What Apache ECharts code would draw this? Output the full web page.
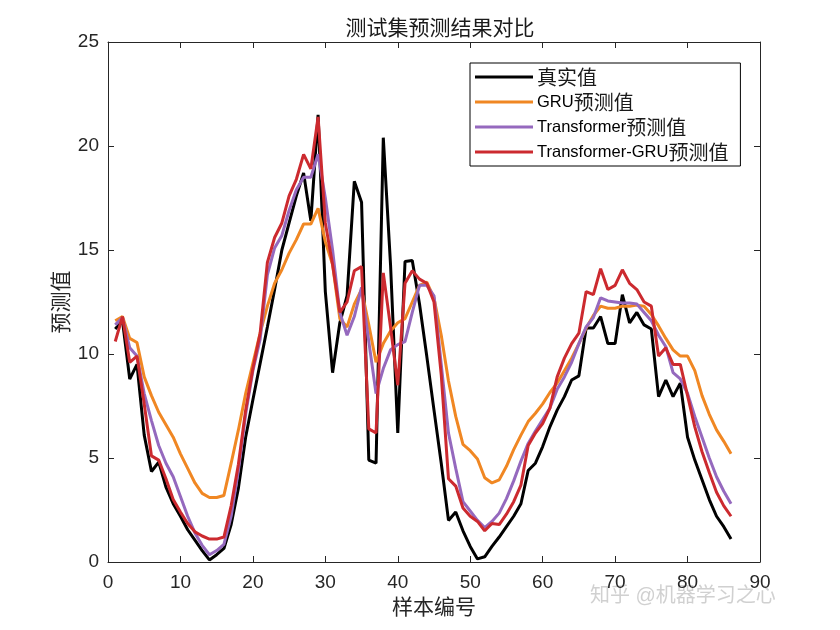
<!DOCTYPE html>
<html>
<head>
<meta charset="utf-8">
<script src="https://cdn.jsdelivr.net/npm/echarts@6/dist/echarts.min.js"></script>
<style>html,body{margin:0;padding:0;background:#fff;}#c{width:840px;height:630px;}</style>
</head>
<body>
<div id="c"></div>
<script>
const titleText = '测试集预测结果对比';
const xName = '样本编号';
const yName = '预测值';
const seriesNames = ['真实值', 'GRU预测值', 'Transformer预测值', 'Transformer-GRU预测值'];
const seriesColors = ['#000000', '#F08723', '#9569BE', '#CC2A2F'];

const trueVals = [11.2, 11.6, 8.8, 9.5, 6.1, 4.35, 4.8, 3.6, 2.8, 2.2,
  1.55, 1.05, 0.55, 0.1, 0.35, 0.65, 1.8, 3.55, 6.0, 7.8,
  9.55, 11.3, 13.1, 15.0, 16.3, 17.6, 18.7, 16.4, 21.5, 13.0,
  9.1, 11.5, 12.8, 18.3, 17.3, 4.9, 4.75, 20.4, 14.3, 6.2,
  14.45, 14.5, 12.4, 9.9, 7.3, 4.75, 2.0, 2.4, 1.5, 0.75,
  0.15, 0.25, 0.75, 1.2, 1.7, 2.2, 2.8, 4.4, 4.75, 5.55,
  6.5, 7.3, 7.95, 8.75, 8.95, 11.25, 11.25, 11.8, 10.5, 10.5,
  12.85, 11.5, 12.0, 11.4, 11.2, 7.95, 8.75, 7.95, 8.6, 6.0,
  4.9, 3.95, 3.0, 2.2, 1.7, 1.1];

const gruVals = [11.6, 11.8, 10.75, 10.55, 8.9, 8.0, 7.2, 6.6, 6.0, 5.2,
  4.5, 3.8, 3.3, 3.1, 3.1, 3.2, 4.75, 6.35, 8.1, 9.55,
  11.0, 12.3, 13.4, 14.05, 14.85, 15.5, 16.25, 16.25, 17.0, 15.4,
  14.3, 11.7, 11.3, 12.4, 13.1, 11.4, 9.6, 10.5, 11.1, 11.5,
  11.7, 12.5, 13.3, 13.45, 12.7, 10.9, 8.7, 7.0, 5.65, 5.35,
  4.95, 4.05, 3.8, 3.95, 4.6, 5.4, 6.1, 6.75, 7.15, 7.6,
  8.15, 8.6, 9.2, 9.8, 10.5, 11.25, 11.85, 12.3, 12.2, 12.2,
  12.3, 12.3, 12.35, 12.3, 11.9, 11.35, 10.75, 10.2, 9.9, 9.9,
  9.2, 8.0, 7.1, 6.35, 5.8, 5.2];

const transVals = [11.4, 11.75, 10.3, 9.9, 8.1, 6.8, 5.6, 4.75, 4.1, 3.15,
  2.2, 1.4, 0.8, 0.35, 0.55, 0.85, 2.2, 4.4, 7.1, 9.2,
  10.7, 13.8, 15.1, 15.7, 16.9, 17.9, 18.5, 18.5, 19.6, 17.5,
  15.0, 12.0, 10.9, 11.8, 13.2, 10.6, 8.1, 9.3, 10.2, 10.45,
  10.6, 12.0, 13.3, 13.3, 12.8, 9.5, 6.2, 4.5, 2.9, 2.45,
  2.0, 1.65, 1.95, 2.35, 3.05, 3.9, 4.85, 5.7, 6.3, 6.85,
  7.4, 8.3, 8.9, 9.6, 10.5, 11.3, 11.75, 12.7, 12.55, 12.5,
  12.45, 12.45, 12.4, 12.0, 11.6, 10.9, 10.35, 9.1, 8.8, 8.1,
  7.0, 6.0, 5.0, 4.1, 3.4, 2.8];

const tgVals = [10.6, 11.8, 9.6, 9.9, 7.6, 5.1, 4.9, 4.0, 3.0, 2.4,
  1.85, 1.45, 1.25, 1.1, 1.1, 1.2, 2.7, 4.7, 7.3, 9.3,
  11.0, 14.4, 15.6, 16.3, 17.6, 18.4, 19.6, 18.9, 21.4, 16.3,
  14.3, 12.0, 12.5, 14.0, 14.2, 6.4, 6.2, 13.9, 11.3, 8.5,
  13.4, 14.0, 13.6, 13.4, 12.5, 9.0, 4.0, 3.65, 2.6, 2.2,
  1.95, 1.5, 1.85, 1.8, 2.3, 2.9, 3.7, 5.6, 6.2, 6.65,
  7.4, 8.9, 9.8, 10.5, 11.0, 13.0, 12.85, 14.1, 13.1, 13.3,
  14.05, 13.4, 13.1, 12.5, 12.3, 9.9, 10.3, 9.5, 9.5, 8.0,
  6.5, 5.3, 4.3, 3.35, 2.7, 2.2];

const allVals = [trueVals, gruVals, transVals, tgVals];
const sampleIdx = trueVals.map((_, i) => i + 1);

const numFont = "'Liberation Sans', Arial, 'Noto Sans CJK SC', sans-serif";
const cjkFont = "'Liberation Sans', 'Noto Sans CJK SC', sans-serif";

const chart = echarts.init(document.getElementById('c'), null, {renderer: 'canvas'});

const axisCommonX = {
  type: 'value', min: 0, max: 90, interval: 10,
  splitLine: {show: false},
  axisLine: {show: true, onZero: false, lineStyle: {color: '#262626', width: 1}},
  axisTick: {show: true, inside: true, length: 6, lineStyle: {color: '#262626'}}
};
const axisCommonY = {
  type: 'value', min: 0, max: 25, interval: 5,
  splitLine: {show: false},
  axisLine: {show: true, onZero: false, lineStyle: {color: '#262626', width: 1}},
  axisTick: {show: true, inside: true, length: 6, lineStyle: {color: '#262626'}}
};

function legendLabel(name) {
  const m = name.match(/^([\x00-\x7F]*)(.*)$/);
  return (m[1] ? '{a|' + m[1] + '}' : '') + (m[2] ? '{b|' + m[2] + '}' : '');
}

const option = {
  backgroundColor: '#ffffff',
  animation: false,
  title: {
    text: titleText, left: 435, top: 14, textAlign: 'center',
    textStyle: {fontSize: 21, fontWeight: 'normal', color: '#1a1a1a', fontFamily: cjkFont}
  },
  grid: {left: 108, right: 80, top: 42, bottom: 68, show: false},
  legend: {
    orient: 'vertical', left: 470, top: 63,
    backgroundColor: '#fff', borderColor: '#000', borderWidth: 1,
    padding: [4, 12, 4, 5], itemGap: 5, itemWidth: 58, itemHeight: 3,
    icon: 'rect',
    data: seriesNames.map(n => ({name: n})),
    formatter: legendLabel,
    textStyle: {
      color: '#000', lineHeight: 20, padding: [0, 0, 0, -1],
      rich: {
        a: {fontSize: 16.5, color: '#000', fontFamily: numFont, lineHeight: 20},
        b: {fontSize: 20, color: '#1a1a1a', fontFamily: "'Noto Sans CJK SC', sans-serif", lineHeight: 20}
      }
    }
  },
  xAxis: [
    Object.assign({}, axisCommonX, {
      position: 'bottom', name: xName, nameLocation: 'middle', nameGap: 36,
      nameMoveOverlap: false,
      nameTextStyle: {fontSize: 21, color: '#262626', fontFamily: cjkFont},
      axisLabel: {fontSize: 19, color: '#262626', margin: 11, fontFamily: numFont}
    }),
    Object.assign({}, axisCommonX, {position: 'top', axisLabel: {show: false}})
  ],
  yAxis: [
    Object.assign({}, axisCommonY, {
      position: 'left', name: yName, nameLocation: 'middle', nameGap: 35,
      nameMoveOverlap: false,
      nameTextStyle: {fontSize: 21, color: '#262626', fontFamily: cjkFont},
      axisLabel: {fontSize: 19, color: '#262626', margin: 9, fontFamily: numFont}
    }),
    Object.assign({}, axisCommonY, {position: 'right', axisLabel: {show: false}})
  ],
  graphic: [{
    type: 'text', left: 590, top: 586,
    style: {text: '知乎 @机器学习之心', fontSize: 20, fill: 'rgba(200,200,200,0.85)', fontFamily: cjkFont}
  }],
  series: seriesNames.map((name, k) => ({
    name: name, type: 'line', xAxisIndex: 0, yAxisIndex: 0,
    data: sampleIdx.map((x, i) => [x, allVals[k][i]]),
    symbol: 'none', smooth: false,
    lineStyle: {color: seriesColors[k], width: 3},
    itemStyle: {color: seriesColors[k]},
    z: 2 + k
  }))
};
chart.setOption(option);
</script>
</body>
</html>
